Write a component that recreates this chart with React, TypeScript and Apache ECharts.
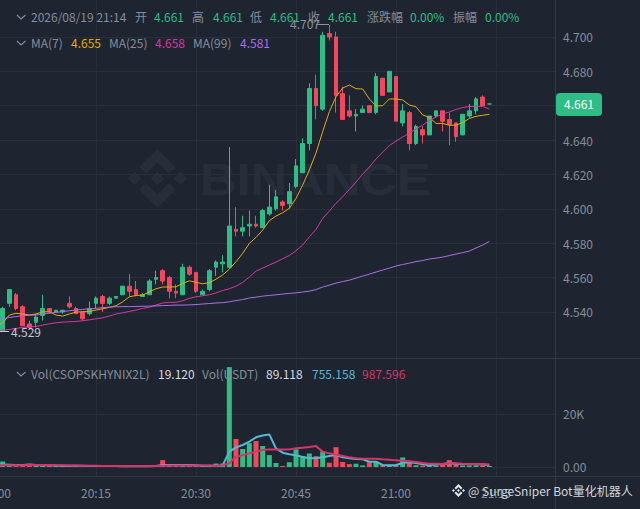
import React, { useEffect, useRef } from "react";
import * as echarts from "echarts";

const BG = "#1e2530";
const GRID = "#292f3a";
const BORDER = "#333945";
const TEXT = "#848e9c";
const UP = "#2ebd85";
const DOWN = "#f6465d";
const FONT = '"Noto Sans CJK SC", "Noto Sans", sans-serif';

// minutes 20:00 .. 21:23
const minutes: string[] = [];
for (let h = 20, m = 0, i = 0; i < 84; i++) {
  minutes.push(`${h}:${String(m).padStart(2, "0")}`);
  m++;
  if (m === 60) { m = 0; h++; }
}

const opens = [4.533,4.529,4.545,4.550,4.543,4.533,4.534,4.538,4.542,4.540,4.540,4.545,4.542,4.540,4.539,4.545,4.549,4.545,4.548,4.550,4.555,4.553,4.549,4.550,4.559,4.564,4.560,4.552,4.550,4.566,4.563,4.550,4.553,4.566,4.568,4.566,4.588,4.587,4.590,4.591,4.589,4.597,4.600,4.604,4.603,4.613,4.621,4.638,4.670,4.658,4.702,4.700,4.667,4.657,4.654,4.656,4.660,4.656,4.676,4.668,4.677,4.650,4.656,4.638,4.646,4.643,4.654,4.657,4.652,4.650,4.643,4.654,4.657,4.665,4.661];
const closes = [4.530,4.542,4.553,4.542,4.532,4.531,4.537,4.542,4.540,4.541,4.541,4.543,4.539,4.536,4.542,4.548,4.545,4.548,4.549,4.555,4.552,4.550,4.550,4.558,4.560,4.558,4.552,4.551,4.566,4.562,4.552,4.552,4.564,4.569,4.569,4.590,4.587,4.589,4.591,4.590,4.599,4.601,4.607,4.602,4.610,4.625,4.638,4.670,4.660,4.701,4.700,4.666,4.652,4.654,4.655,4.658,4.656,4.677,4.666,4.680,4.651,4.657,4.638,4.648,4.643,4.654,4.657,4.651,4.649,4.642,4.655,4.657,4.664,4.660,4.661];
const lows = [4.529,4.529,4.543,4.541,4.532,4.530,4.531,4.535,4.539,4.540,4.539,4.542,4.539,4.535,4.538,4.542,4.540,4.544,4.548,4.550,4.549,4.549,4.549,4.550,4.556,4.556,4.548,4.548,4.550,4.561,4.551,4.550,4.552,4.561,4.563,4.565,4.584,4.584,4.584,4.589,4.589,4.596,4.599,4.599,4.600,4.612,4.621,4.634,4.652,4.657,4.698,4.656,4.652,4.653,4.645,4.656,4.656,4.655,4.666,4.668,4.651,4.648,4.634,4.637,4.638,4.643,4.653,4.645,4.637,4.639,4.643,4.653,4.655,4.660,4.661];
const highs = [4.534,4.543,4.553,4.551,4.544,4.535,4.539,4.550,4.542,4.541,4.541,4.549,4.543,4.540,4.546,4.549,4.550,4.549,4.549,4.555,4.562,4.558,4.551,4.559,4.564,4.565,4.561,4.556,4.568,4.567,4.563,4.553,4.565,4.570,4.573,4.636,4.601,4.596,4.599,4.596,4.600,4.614,4.611,4.605,4.615,4.629,4.641,4.673,4.678,4.703,4.707,4.703,4.671,4.666,4.658,4.660,4.660,4.679,4.676,4.680,4.677,4.661,4.657,4.649,4.648,4.654,4.657,4.657,4.656,4.650,4.655,4.661,4.665,4.666,4.661];

const ma7 = [4.5318,4.5335,4.5382,4.5392,4.5388,4.5383,4.5388,4.5401,4.5401,4.5382,4.5376,4.5388,4.5399,4.5401,4.5403,4.5411,4.5418,4.5427,4.5436,4.5459,4.5488,4.5496,4.5498,4.5517,4.5535,4.5545,4.5545,4.5546,4.5566,4.5581,4.5572,4.5564,4.557,4.5591,4.5615,4.5649,4.5692,4.5741,4.5799,4.5834,4.5876,4.5931,4.5958,4.5977,4.6003,4.6061,4.6138,4.6226,4.6325,4.6449,4.6565,4.6652,4.6703,4.672,4.6699,4.6697,4.6639,4.6598,4.66,4.6639,4.6639,4.6633,4.6604,4.6594,4.6546,4.6532,4.6497,4.6497,4.6486,4.6487,4.6501,4.6526,4.6538,4.6544,4.655];
const ma25 = [4.529,4.5294,4.5298,4.5304,4.531,4.5314,4.5315,4.5323,4.5331,4.5337,4.5341,4.5343,4.5345,4.5349,4.5354,4.536,4.5366,4.5376,4.5388,4.5395,4.5403,4.5411,4.5421,4.5427,4.544,4.5452,4.5456,4.5456,4.5465,4.5479,4.5488,4.5494,4.55,4.5511,4.5525,4.5535,4.555,4.5572,4.5603,4.5638,4.5655,4.5673,4.569,4.5709,4.5729,4.5756,4.5789,4.5837,4.588,4.5944,4.5987,4.6032,4.607,4.6113,4.6156,4.6202,4.6243,4.629,4.633,4.6368,4.6394,4.6418,4.6441,4.6464,4.6487,4.6514,4.6534,4.6552,4.6563,4.6578,4.6589,4.6595,4.6596,4.6596,4.658];
const ma99 = [4.5357,4.536,4.5368,4.5373,4.5378,4.538,4.5382,4.5388,4.5393,4.5397,4.5402,4.5407,4.5411,4.5415,4.5418,4.5421,4.5425,4.5428,4.543,4.5431,4.5431,4.5432,4.5433,4.5434,4.5435,4.5437,4.5438,4.544,4.544,4.5441,4.5443,4.5446,4.5449,4.5452,4.5454,4.5459,4.5466,4.5472,4.5481,4.5486,4.5492,4.5496,4.55,4.5504,4.5508,4.5511,4.5516,4.5521,4.553,4.5545,4.5556,4.5568,4.5577,4.5585,4.5597,4.5609,4.562,4.5632,4.5644,4.5655,4.5667,4.5676,4.5684,4.5693,4.5699,4.5708,4.5713,4.5719,4.5728,4.5737,4.5745,4.5754,4.5772,4.5789,4.581];

const volumes = [700,2100,600,900,1000,750,750,750,500,450,400,500,450,450,350,300,300,300,300,300,300,300,350,300,300,2600,500,300,400,300,300,500,600,1300,1300,37700,10560,6800,9000,9800,7900,4500,1500,400,1800,6700,4100,5100,4100,5800,1600,7500,1900,1100,1250,600,1750,2000,600,600,600,3600,2250,650,500,600,600,1400,2600,1100,600,600,600,600,300];
const volMa5 = [900,900,850,750,800,900,800,700,650,550,500,450,450,450,400,350,350,350,350,300,300,300,300,300,350,750,800,750,800,800,700,500,450,500,600,5800,7400,8300,9550,11200,11900,12300,7000,5400,4800,4400,3800,3300,3300,3650,4150,4500,3650,3300,3000,2900,2000,2000,750,650,650,1650,1750,1500,1000,650,900,1150,1400,1250,1150,1100,1000,950,755];
const volMa10 = [700,700,700,700,700,750,800,800,750,700,650,600,550,500,450,450,400,400,400,400,400,400,400,400,400,500,550,550,550,600,600,550,550,400,650,1400,3900,4400,5150,5800,6400,6650,6650,6650,6650,7050,7300,7550,7900,5800,5150,4650,4150,3650,3300,3150,3150,3150,2900,2750,2500,2400,2150,1900,1500,1250,1250,1150,1400,1400,1250,1150,1150,1150,988];

const priceTicks = [4.54, 4.56, 4.58, 4.6, 4.62, 4.64, 4.66, 4.68, 4.7];
const priceLabels = [4.54, 4.56, 4.58, 4.6, 4.62, 4.64, 4.68, 4.7];
const volTicks = [0, 20000];
const timeLabels = ["20:00", "20:15", "20:30", "20:45", "21:00", "21:15"];
const PRICE_MIN = 4.5132;
const PRICE_MAX = 4.7215;
const VOL_MIN = -3774;
const VOL_MAX = 41132;

const BINANCE_D =
  "M38.73 53.2l24.59-24.58 24.6 24.6 14.3-14.31L63.32 0 24.42 38.9l14.31 14.3z M0 63.31l14.3-14.31 14.31 14.31-14.31 14.3z M38.73 73.41l24.59 24.59 24.6-24.6 14.31 14.29-38.9 38.91-38.91-38.88v-.02l14.31-14.29z M98.28 63.31l14.3-14.31 14.31 14.31-14.31 14.3z M77.83 63.3L63.32 48.78 52.59 59.51l-1.24 1.23-2.54 2.54 14.51 14.5 14.51-14.47z";
echarts.graphic.registerShape("binanceMark", echarts.graphic.extendPath(BINANCE_D, {}) as any);

const T = (text: string, x: number, y: number, fill: string, extra: any = {}) => ({
  type: "text",
  x,
  y: y - 1,
  z: 100,
  silent: true,
  style: { text, fill, font: `12px ${FONT}`, verticalAlign: "middle", ...extra },
});
const chevron = (y: number) => ({
  type: "polyline",
  z: 100,
  silent: true,
  shape: { points: [[17, y - 2], [21, y + 2], [25.5, y - 2]] },
  style: { stroke: TEXT, lineWidth: 1.1, fill: "none" },
});
const hLine = (x1: number, x2: number, y: number, c = BORDER) => ({
  type: "line",
  z: 50,
  silent: true,
  shape: { x1, y1: y, x2, y2: y },
  style: { stroke: c, lineWidth: 1 },
});

export default function App() {
  const ref = useRef<HTMLDivElement>(null);
  useEffect(() => {
    document.body.style.margin = "0";
    const chart = echarts.init(ref.current!, null, { renderer: "svg" });
    const candles = opens.map((o, i) => [o, closes[i], lows[i], highs[i]]);
    const bars = volumes.map((v, i) => ({
      value: v,
      itemStyle: { color: closes[i] >= opens[i] ? UP : DOWN },
    }));
    const labelTest = (_: number, v: string) => timeLabels.includes(v);
    chart.setOption({
      animation: false,
      backgroundColor: BG,
      grid: [
        { left: -7.33, top: 0, width: 560, height: 358, outerBoundsMode: "none" },
        { left: -7.33, top: 358, width: 560, height: 119, outerBoundsMode: "none" },
        { left: 0, top: 0, width: 555, height: 358, outerBoundsMode: "none" },
        { left: 0, top: 358, width: 555, height: 119, outerBoundsMode: "none" },
      ],
      xAxis: [
        {
          type: "category", gridIndex: 0, data: minutes, boundaryGap: true,
          axisLine: { show: false }, axisTick: { show: false }, axisLabel: { show: false },
          splitLine: { show: true, interval: labelTest, alignWithLabel: true, lineStyle: { color: GRID, width: 1 } },
        },
        {
          type: "category", gridIndex: 1, data: minutes, boundaryGap: true,
          axisLine: { show: false }, axisTick: { show: false },
          axisLabel: { show: true, interval: labelTest, color: TEXT, fontSize: 12, fontFamily: FONT, margin: 9, hideOverlap: false },
          splitLine: { show: true, interval: labelTest, alignWithLabel: true, lineStyle: { color: GRID, width: 1 } },
        },
        { type: "value", gridIndex: 2, min: 0, max: 1, show: false },
        { type: "value", gridIndex: 3, min: 0, max: 1, show: false },
      ],
      yAxis: [
        { type: "value", gridIndex: 0, min: PRICE_MIN, max: PRICE_MAX, show: false, scale: true },
        { type: "value", gridIndex: 1, min: VOL_MIN, max: VOL_MAX, show: false },
        {
          type: "value", gridIndex: 2, position: "right", min: PRICE_MIN, max: PRICE_MAX, scale: true,
          axisLine: { show: false }, axisTick: { show: false, customValues: priceTicks },
          axisLabel: {
            customValues: priceLabels, color: TEXT, fontSize: 12, fontFamily: FONT, margin: 8,
            formatter: (v: number) => v.toFixed(3),
          },
          splitLine: { show: true, lineStyle: { color: GRID, width: 1 } },
        },
        {
          type: "value", gridIndex: 3, position: "right", min: VOL_MIN, max: VOL_MAX,
          axisLine: { show: false }, axisTick: { show: false, customValues: volTicks },
          axisLabel: {
            customValues: volTicks, color: TEXT, fontSize: 12, fontFamily: FONT, margin: 8,
            formatter: (v: number) => (v === 0 ? "0.00" : `${v / 1000}K`),
          },
          splitLine: { show: true, lineStyle: { color: GRID, width: 1 } },
        },
      ],
      series: [
        {
          type: "candlestick", xAxisIndex: 0, yAxisIndex: 0, data: candles, barWidth: 4, z: 3,
          itemStyle: { color: UP, color0: DOWN, borderColor: UP, borderColor0: DOWN, borderWidth: 1 },
        },
        ...[[ma7, "#e5ab0a"], [ma25, "#d6389f"], [ma99, "#a86fe8"]].map(([d, c]) => ({
          type: "line", xAxisIndex: 0, yAxisIndex: 0, data: d, symbol: "none", z: 4,
          lineStyle: { color: c, width: 1 },
        })),
        { type: "bar", xAxisIndex: 1, yAxisIndex: 1, data: bars, barWidth: 5, barMinHeight: 1, z: 3 },
        {
          type: "line", xAxisIndex: 1, yAxisIndex: 1, data: volMa5, symbol: "none", z: 4,
          lineStyle: { color: "#55b9d3", width: 2 },
        },
        {
          type: "line", xAxisIndex: 1, yAxisIndex: 1, data: volMa10, symbol: "none", z: 5,
          lineStyle: { color: "#d9336b", width: 2 },
        },
      ],
      graphic: {
        elements: [
          { type: "binanceMark", x: 128, y: 149, scaleX: 59 / 126.9, scaleY: 59 / 126.9, z: 1, silent: true, style: { fill: "#282e39" } },
          { type: "text", x: 200, y: 179, scaleX: 1.125, z: 1, silent: true, style: { text: "BINANCE", fill: "#282e39", font: 'bold 45px "Liberation Sans", sans-serif', verticalAlign: "middle" } },

          hLine(0, 640, 358.5),
          hLine(0, 640, 476.5),
          { type: "line", z: 50, silent: true, shape: { x1: 555.5, y1: 0, x2: 555.5, y2: 509 }, style: { stroke: BORDER, lineWidth: 1 } },

          chevron(17),
          T("2026/08/19 21:14", 31, 17, TEXT),
          T("开", 135, 17, TEXT),
          T("4.661", 154, 17, UP),
          T("高", 192, 17, TEXT),
          T("4.661", 213, 17, UP),
          T("低", 250, 17, TEXT),
          T("4.661", 270, 17, UP),
          T("收", 308, 17, TEXT),
          T("4.661", 328, 17, UP),
          T("涨跌幅", 367, 17, TEXT),
          T("0.00%", 410, 17, UP),
          T("振幅", 453, 17, TEXT),
          T("0.00%", 485, 17, UP),

          chevron(43),
          T("MA(7)", 31, 43, TEXT),
          T("4.655", 71, 43, "#e5ab0a"),
          T("MA(25)", 109, 43, TEXT),
          T("4.658", 155, 43, "#d6389f"),
          T("MA(99)", 193, 43, TEXT),
          T("4.581", 240, 43, "#a86fe8"),

          chevron(374),
          T("Vol(CSOPSKHYNIX2L)", 31, 374, TEXT),
          T("19.120", 158, 374, "#d6dae0"),
          T("Vol(USDT)", 202, 374, TEXT),
          T("89.118", 266, 374, "#d6dae0"),
          T("755.158", 312, 374, "#55b9d3"),
          T("987.596", 362, 374, "#d9336b"),

          T("4.707", 290, 24, "#8b919b"),
          hLine(316, 329, 24.5, "#8b919b"),
          T("4.529", 11, 332, "#c4c8cf"),
          hLine(0, 9, 331.5, "#c4c8cf"),

          { type: "rect", z: 60, silent: true, shape: { x: 556, y: 93, width: 46, height: 23, r: 4 }, style: { fill: UP } },
          T("4.661", 579, 104.5, "#ffffff", { align: "center" }),

          { type: "binanceMark", x: 452, y: 484, scaleX: 13 / 126.9, scaleY: 13 / 126.9, z: 100, silent: true, style: { fill: "#e6e8ea" } },
          T("@ SurgeSniper Bot量化机器人", 468, 491, "#d2d5da", { font: `12px ${FONT}` }),
        ],
      },
    });
    return () => chart.dispose();
  }, []);
  return <div ref={ref} style={{ position: "absolute", left: 0, top: 0, width: 640, height: 509 }} />;
}
